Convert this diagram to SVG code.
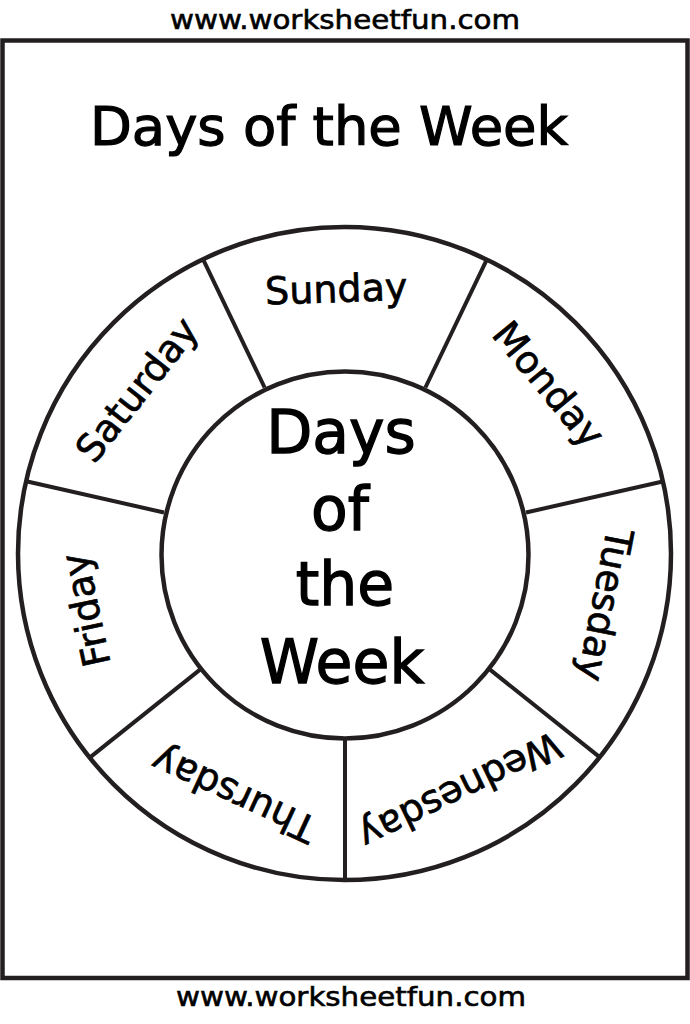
<svg xmlns="http://www.w3.org/2000/svg" width="690" height="1024" viewBox="0 0 690 1024">
  <style>
    .ln { fill: none; stroke: #231f20; stroke-width: 4.5; }
    .dv { stroke: #231f20; stroke-width: 4; stroke-linecap: butt; }
    .t { font-family: "DejaVu Sans", "Liberation Sans", sans-serif; fill: #000; stroke: #000; text-anchor: middle; }
    .day { font-size: 38px; stroke-width: 0.7; }
    .ctr { font-size: 60px; stroke-width: 1.3; }
    .web { font-size: 27px; stroke-width: 0.6; }
  </style>
  <rect width="690" height="1024" fill="#fff"/>
  <g id="header">
    <text class="t web" x="345" y="29" textLength="350" lengthAdjust="spacingAndGlyphs">www.worksheetfun.com</text>
  </g>
  <rect id="border" class="ln" x="2.5" y="40.5" width="685" height="937.5" stroke-width="5"/>
  <g id="title">
    <text class="t" x="329" y="145" font-size="54" stroke-width="1.2" textLength="478" lengthAdjust="spacingAndGlyphs">Days of the Week</text>
  </g>
  <g id="wheel">
    <circle class="ln" cx="344.5" cy="553.5" r="326.5"/>
    <circle class="ln" cx="345" cy="555" r="183.5"/>
  </g>
  <g id="connectors">
    <line class="dv" x1="345" y1="738" x2="345" y2="881"/>
    <line class="dv" x1="488.1" y1="668.1" x2="600.6" y2="757.9"/>
    <line class="dv" x1="526" y1="512.5" x2="663.8" y2="481.2"/>
    <line class="dv" x1="425.4" y1="387.5" x2="486.9" y2="259.4"/>
    <line class="dv" x1="264.6" y1="387.5" x2="203.1" y2="259.4"/>
    <line class="dv" x1="164" y1="512.5" x2="26.2" y2="481.2"/>
    <line class="dv" x1="201.9" y1="668.1" x2="89.4" y2="757.9"/>
  </g>
  <g id="center">
    <text class="t ctr" x="341" y="453">Days</text>
    <text class="t ctr" x="340" y="530">of</text>
    <text class="t ctr" x="345" y="605">the</text>
    <text class="t ctr" x="342" y="683">Week</text>
  </g>
  <g id="sunday"><text class="t day" x="345" y="302" transform="rotate(-1.9 345 554)">Sunday</text></g>
  <g id="monday"><text class="t day" x="345" y="302" transform="rotate(50.2 345 554)">Monday</text></g>
  <g id="tuesday"><text class="t day" x="345" y="302" transform="rotate(101.1 345 554)">Tuesday</text></g>
  <g id="wednesday"><text class="t day" x="345" y="304" transform="rotate(154.1 345 554)">Wednesday</text></g>
  <g id="thursday"><text class="t day" x="345" y="302" transform="rotate(204.8 345 554)">Thursday</text></g>
  <g id="friday"><text class="t day" x="345" y="302" transform="rotate(257.8 345 554)">Friday</text></g>
  <g id="saturday"><text class="t day" x="345" y="302" transform="rotate(308.3 345 554)">Saturday</text></g>
  <g id="footer">
    <text class="t web" x="351" y="1006" textLength="350" lengthAdjust="spacingAndGlyphs">www.worksheetfun.com</text>
  </g>
</svg>
